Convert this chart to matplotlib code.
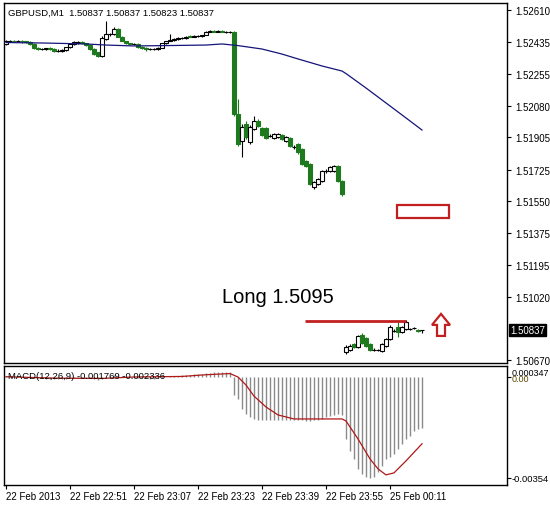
import matplotlib
matplotlib.use("Agg")
import matplotlib.pyplot as plt
import matplotlib.transforms as mtransforms
from matplotlib.patches import Rectangle, Polygon

plt.rcParams["font.family"] = ["Liberation Sans", "DejaVu Sans"]

# GBPUSD M1 candles, 22 Feb 22:35 .. 25 Feb 00:19 (weekend gap after index 84)
opens = [
    1.52422, 1.52438, 1.52440, 1.52438, 1.52438, 1.52436, 1.52433, 1.52422, 1.52400, 1.52394,
    1.52394, 1.52400, 1.52394, 1.52383, 1.52383, 1.52388, 1.52405, 1.52422, 1.52427, 1.52433,
    1.52427, 1.52416, 1.52394, 1.52377, 1.52355, 1.52449, 1.52477, 1.52477, 1.52505, 1.52461,
    1.52438, 1.52427, 1.52422, 1.52422, 1.52405, 1.52400, 1.52394, 1.52394, 1.52394, 1.52400,
    1.52427, 1.52438, 1.52444, 1.52449, 1.52455, 1.52455, 1.52466, 1.52461, 1.52466, 1.52466,
    1.52472, 1.52488, 1.52494, 1.52488, 1.52494, 1.52488, 1.52488, 1.52488, 1.52034, 1.51884,
    1.51979, 1.51879, 1.51951, 1.51995, 1.51956, 1.51956, 1.51912, 1.51901, 1.51907, 1.51918,
    1.51884, 1.51901, 1.51851, 1.51868, 1.51840, 1.51774, 1.51757, 1.51630, 1.51646, 1.51663,
    1.51718, 1.51718, 1.51718, 1.51746, 1.51663, 1.50715, 1.50726, 1.50760, 1.50743, 1.50810,
    1.50793, 1.50760, 1.50726, 1.50726, 1.50721, 1.50749, 1.50787, 1.50832, 1.50854, 1.50826,
    1.50843, 1.50843, 1.50848, 1.50837, 1.50837,
]
highs = [
    1.52444, 1.52444, 1.52446, 1.52444, 1.52442, 1.52440, 1.52436, 1.52427, 1.52405, 1.52400,
    1.52402, 1.52405, 1.52398, 1.52394, 1.52392, 1.52407, 1.52424, 1.52436, 1.52438, 1.52436,
    1.52430, 1.52420, 1.52398, 1.52380, 1.52466, 1.52549, 1.52483, 1.52516, 1.52510, 1.52464,
    1.52441, 1.52430, 1.52427, 1.52425, 1.52411, 1.52405, 1.52400, 1.52398, 1.52405, 1.52430,
    1.52441, 1.52477, 1.52455, 1.52458, 1.52461, 1.52464, 1.52469, 1.52469, 1.52472, 1.52474,
    1.52494, 1.52499, 1.52497, 1.52497, 1.52497, 1.52494, 1.52494, 1.52494, 1.52117, 1.51979,
    1.51995, 1.51973, 1.52023, 1.52006, 1.51962, 1.51962, 1.51923, 1.51929, 1.51929, 1.51923,
    1.51912, 1.51907, 1.51862, 1.51873, 1.51845, 1.51779, 1.51762, 1.51663, 1.51680, 1.51724,
    1.51729, 1.51746, 1.51751, 1.51751, 1.51668, 1.50754, 1.50760, 1.50765, 1.50810, 1.50821,
    1.50799, 1.50765, 1.50738, 1.50732, 1.50765, 1.50793, 1.50865, 1.50843, 1.50882, 1.50860,
    1.50893, 1.50848, 1.50854, 1.50843, 1.50837,
]
lows = [
    1.52416, 1.52433, 1.52433, 1.52433, 1.52430, 1.52427, 1.52416, 1.52394, 1.52390, 1.52388,
    1.52388, 1.52390, 1.52380, 1.52377, 1.52380, 1.52385, 1.52402, 1.52418, 1.52424, 1.52424,
    1.52413, 1.52390, 1.52363, 1.52350, 1.52352, 1.52446, 1.52466, 1.52472, 1.52458, 1.52436,
    1.52424, 1.52418, 1.52416, 1.52402, 1.52394, 1.52383, 1.52388, 1.52388, 1.52388, 1.52397,
    1.52424, 1.52436, 1.52441, 1.52446, 1.52449, 1.52452, 1.52458, 1.52458, 1.52461, 1.52463,
    1.52469, 1.52486, 1.52486, 1.52486, 1.52486, 1.52485, 1.52483, 1.52023, 1.51857, 1.51796,
    1.51895, 1.51868, 1.51945, 1.51962, 1.51912, 1.51895, 1.51907, 1.51895, 1.51901, 1.51890,
    1.51879, 1.51851, 1.51840, 1.51812, 1.51751, 1.51740, 1.51640, 1.51618, 1.51640, 1.51657,
    1.51707, 1.51713, 1.51713, 1.51657, 1.51580, 1.50704, 1.50721, 1.50738, 1.50738, 1.50760,
    1.50743, 1.50721, 1.50721, 1.50718, 1.50715, 1.50743, 1.50782, 1.50826, 1.50799, 1.50821,
    1.50837, 1.50837, 1.50843, 1.50826, 1.50823,
]
closes = [
    1.52438, 1.52440, 1.52438, 1.52438, 1.52436, 1.52433, 1.52422, 1.52400, 1.52394, 1.52394,
    1.52400, 1.52394, 1.52383, 1.52383, 1.52388, 1.52405, 1.52422, 1.52433, 1.52433, 1.52427,
    1.52416, 1.52394, 1.52366, 1.52355, 1.52455, 1.52477, 1.52477, 1.52505, 1.52461, 1.52438,
    1.52427, 1.52422, 1.52422, 1.52405, 1.52400, 1.52394, 1.52394, 1.52394, 1.52400, 1.52427,
    1.52438, 1.52444, 1.52449, 1.52455, 1.52455, 1.52461, 1.52461, 1.52466, 1.52466, 1.52472,
    1.52488, 1.52494, 1.52488, 1.52494, 1.52488, 1.52488, 1.52488, 1.52034, 1.51868, 1.51962,
    1.51907, 1.51962, 1.51995, 1.51967, 1.51918, 1.51901, 1.51912, 1.51923, 1.51923, 1.51895,
    1.51907, 1.51857, 1.51851, 1.51823, 1.51757, 1.51746, 1.51646, 1.51657, 1.51674, 1.51718,
    1.51718, 1.51740, 1.51746, 1.51663, 1.51591, 1.50743, 1.50749, 1.50743, 1.50804, 1.50765,
    1.50749, 1.50726, 1.50726, 1.50726, 1.50760, 1.50787, 1.50854, 1.50832, 1.50826, 1.50854,
    1.50882, 1.50843, 1.50848, 1.50832, 1.50837,
]

# moving average (blue line), sampled at these bars
ma_idx = [0, 10, 20, 25, 32, 40, 50, 54, 58, 64, 69, 73, 79, 84, 85, 90, 95, 100, 104]
ma_val = [1.52430, 1.52427, 1.52422, 1.52416, 1.52411, 1.52413, 1.52416, 1.52422, 1.52413,
          1.52394, 1.52366, 1.52339, 1.52300, 1.52272, 1.52258, 1.52178, 1.52095, 1.52012, 1.51945]

# MACD(12,26,9) main (histogram) per bar
macd = [
    0.00002, 0.00002, 0.00001, 0.00001, 0.00001, 0.00000, -0.00001, -0.00003, -0.00004, -0.00005,
    -0.00006, -0.00006, -0.00007, -0.00008, -0.00008, -0.00007, -0.00005, -0.00003, -0.00002, -0.00002,
    -0.00003, -0.00005, -0.00008, -0.00010, -0.00006, 0.00000, 0.00003, 0.00006, 0.00005, 0.00003,
    0.00001, 0.00000, -0.00001, -0.00003, -0.00004, -0.00005, -0.00006, -0.00006, -0.00004, -0.00002,
    0.00000, 0.00002, 0.00004, 0.00005, 0.00006, 0.00007, 0.00008, 0.00009, 0.00011, 0.00012,
    0.00013, 0.00015, 0.00016, 0.00017, 0.00017, 0.00018, 0.00018, -0.00063, -0.00077, -0.00112,
    -0.00130, -0.00140, -0.00147, -0.00149, -0.00151, -0.00152, -0.00151, -0.00150, -0.00150, -0.00151,
    -0.00152, -0.00151, -0.00150, -0.00151, -0.00152, -0.00153, -0.00153, -0.00152, -0.00151, -0.00148,
    -0.00140, -0.00135, -0.00132, -0.00130, -0.00132, -0.00217, -0.00259, -0.00287, -0.00322, -0.00340,
    -0.00351, -0.00354, -0.00351, -0.00333, -0.00312, -0.00287, -0.00280, -0.00270, -0.00252, -0.00235,
    -0.00217, -0.00207, -0.00189, -0.00182, -0.00177,
]
sig_idx = [0, 12, 24, 32, 44, 50, 56, 58, 60, 62, 65, 68, 72, 84, 85, 88, 91, 93, 95, 97, 100, 104]
sig_val = [0.00001, -0.00004, -0.00005, 0.00000, 0.00002, 0.00008, 0.00012, 0.00000, -0.00028,
           -0.00067, -0.00105, -0.00133, -0.00147, -0.00147, -0.00154, -0.00217, -0.00287,
           -0.00322, -0.00343, -0.00336, -0.00294, -0.00234]

price_ticks = [1.52610, 1.52435, 1.52255, 1.52080, 1.51905, 1.51725, 1.51550,
               1.51375, 1.51195, 1.51020, 1.50670]
time_idx = [0, 16, 32, 48, 64, 80, 96]
time_labels = ["22 Feb 2013", "22 Feb 22:51", "22 Feb 23:07", "22 Feb 23:23",
               "22 Feb 23:39", "22 Feb 23:55", "25 Feb 00:11"]

last_price = 1.50837
long_level = 1.50888

GREEN = "#1f7a1f"
RED = "#c22020"

W, H = 550, 506


def frac(x0, y0, x1, y1):
    return [x0 / W, 1 - y1 / H, (x1 - x0) / W, (y1 - y0) / H]


fig = plt.figure(figsize=(W / 100, H / 100), dpi=100)
ax = fig.add_axes(frac(4, 4, 507, 364))
ax2 = fig.add_axes(frac(4, 367, 507, 486), sharex=ax)

# --- candles ---
for i in range(len(opens)):
    o, h, l, c = opens[i], highs[i], lows[i], closes[i]
    if c > o:
        ax.vlines(i, l, h, color="black", lw=0.8, zorder=2)
        ax.add_patch(Rectangle((i - 0.38, o), 0.76, c - o, facecolor="white",
                               edgecolor="black", lw=0.8, zorder=3))
    elif c < o:
        ax.vlines(i, l, h, color=GREEN, lw=0.8, zorder=2)
        ax.add_patch(Rectangle((i - 0.38, c), 0.76, o - c, facecolor=GREEN,
                               edgecolor=GREEN, lw=0.8, zorder=3))
    else:
        ax.vlines(i, l, h, color="black", lw=0.8, zorder=2)
        ax.hlines(c, i - 0.4, i + 0.4, color="black", lw=0.8, zorder=3)

ax.plot(ma_idx, ma_val, color="#14147a", lw=0.9, zorder=4)

# annotations
ax.hlines(long_level, 74.75, 100, color=RED, lw=2, zorder=5)
ax.text(54, 1.51020, "Long 1.5095", fontsize=14.5, va="center", ha="left")
ax.add_patch(Rectangle((97.75, 1.51458), 13, 1.51530 - 1.51458, facecolor="none",
                       edgecolor=RED, lw=1.6, zorder=5))
arrow = [(106.5, 1.50865), (108.75, 1.50926), (111, 1.50865), (109.75, 1.50865),
         (109.75, 1.50804), (107.75, 1.50804), (107.75, 1.50865)]
ax.add_patch(Polygon(arrow, closed=True, facecolor="white", edgecolor=RED, lw=1.6, zorder=5))

ax.set_xlim(-0.5, 125.25)
ax.set_ylim(1.50654, 1.52649)
ax.yaxis.tick_right()
ax.set_yticks(price_ticks)
ax.set_yticklabels(["%.5f" % p for p in price_ticks])
ax.tick_params(axis="y", length=3, width=0.8, pad=3, labelsize=7)
ax.tick_params(axis="x", bottom=False, labelbottom=False)
for s in ax.spines.values():
    s.set_linewidth(1)

trans = mtransforms.blended_transform_factory(ax.transAxes, ax.transData)
ax.text(1.006, last_price, "%.5f" % last_price, transform=trans, fontsize=7,
        color="white", va="center", ha="left",
        bbox=dict(boxstyle="square,pad=0.15", facecolor="black", edgecolor="black"))

fig.text(8 / W, 1 - 13 / H, "GBPUSD,M1  1.50837 1.50837 1.50823 1.50837",
         fontsize=6.8, va="center", ha="left")

# --- MACD ---
ax2.vlines(range(len(macd)), 0, macd, color="#8a8a8a", lw=1)
ax2.plot(sig_idx, sig_val, color="#b01818", lw=0.9)
ax2.set_ylim(-0.003785, 0.000386)
ax2.set_yticks([0.0, -0.00354])
ax2.set_yticklabels(["", ""])
ax2.yaxis.tick_right()
ax2.tick_params(axis="y", length=3, width=0.8)
ax2.set_xticks(time_idx)
ax2.set_xticklabels(time_labels, ha="left")
ax2.tick_params(axis="x", length=3, width=0.8, pad=1.5, labelsize=7)
for s in ax2.spines.values():
    s.set_linewidth(1)

ax2.text(0.008, 0.92, "MACD(12,26,9) -0.001769 -0.002336", transform=ax2.transAxes,
         fontsize=6.8, va="center", ha="left")
trans2 = mtransforms.blended_transform_factory(ax2.transAxes, ax2.transData)
ax2.text(1.010, 0.000165, "0.000347", transform=trans2, fontsize=6.5, va="center", ha="left")
ax2.text(1.010, -0.00004, "0.00", transform=trans2, fontsize=6.5, va="center", ha="left",
         color="#5a4a00")
ax2.text(1.010, -0.00354, "-0.00354", transform=trans2, fontsize=6.8, va="center", ha="left")

fig.savefig("out.png", dpi=100)
